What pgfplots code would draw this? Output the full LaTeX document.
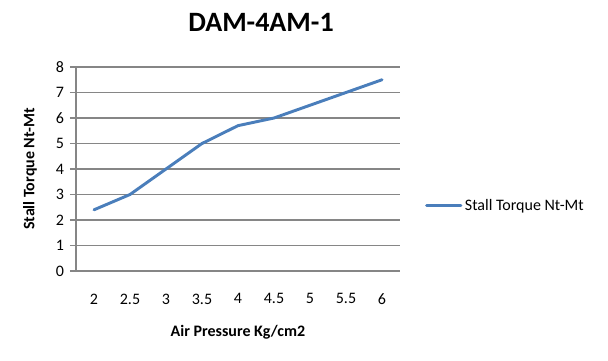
\documentclass[border=0pt]{standalone}
\usepackage{fontspec}
\setmainfont{Carlito}
\usepackage{pgfplots}
\pgfplotsset{compat=1.18}
\definecolor{lineblue}{RGB}{74,126,187}
\definecolor{gridgray}{RGB}{134,134,134}
\begin{document}
\begin{tikzpicture}[x=0.75pt,y=0.75pt]
\path[use as bounding box] (-76,-90) rectangle (532,271);
\begin{axis}[
  at={(0,0)}, anchor=south west,
  scale only axis, width=243pt, height=153pt,
  xmin=-0.5, xmax=8.5, ymin=0, ymax=8,
  xtick={0,...,8},
  xticklabels={2,2.5,3,3.5,4,4.5,5,5.5,6},
  ytick={0,...,8},
  /pgf/number format/assume math mode=true,
  ymajorgrids, grid style={gridgray, line width=0.8pt},
  axis x line*=bottom, axis y line*=left,
  axis line style={gridgray, line width=0.8pt, -},
  x tick style={draw=none},
  y tick style={gridgray, line width=0.8pt},
  tick align=outside, major tick length=4.5pt,
  tick label style={font=\fontsize{12}{14}\selectfont, text=black},
  xticklabel style={yshift=-9pt},
  yticklabel style={xshift=-1pt},
  xlabel={\textbf{Air Pressure Kg/cm2}},
  ylabel={\textbf{Stall Torque Nt-Mt}},
  label style={font=\fontsize{12}{14}\selectfont},
  xlabel style={at={(axis description cs:0.5,-0.299)}, anchor=center},
  ylabel style={at={(axis description cs:-0.142,0.5)}, anchor=center, rotate=0},
  title={\textbf{DAM-4AM-1}},
  title style={font=\fontsize{21}{24}\selectfont, at={(axis description cs:0.571,1.181)}, anchor=center},
  legend style={at={(axis description cs:1.077,0.32)}, anchor=west, draw=none, fill=none, font=\fontsize{12}{14}\selectfont, inner sep=0pt},
  legend cell align=left,
  legend image code/.code={\draw[#1] (0cm,0cm) -- (0.9cm,0cm);},
  clip=false,
]
\addplot[lineblue, line width=2.2pt, line join=round, line cap=round] coordinates {
(0,2.4) (1,3.0) (2,4.0) (3,5.0) (4,5.7) (5,6.0) (6,6.5) (7,7.0) (8,7.5)};
\addlegendentry{Stall Torque Nt-Mt}
\end{axis}
\end{tikzpicture}
\end{document}
